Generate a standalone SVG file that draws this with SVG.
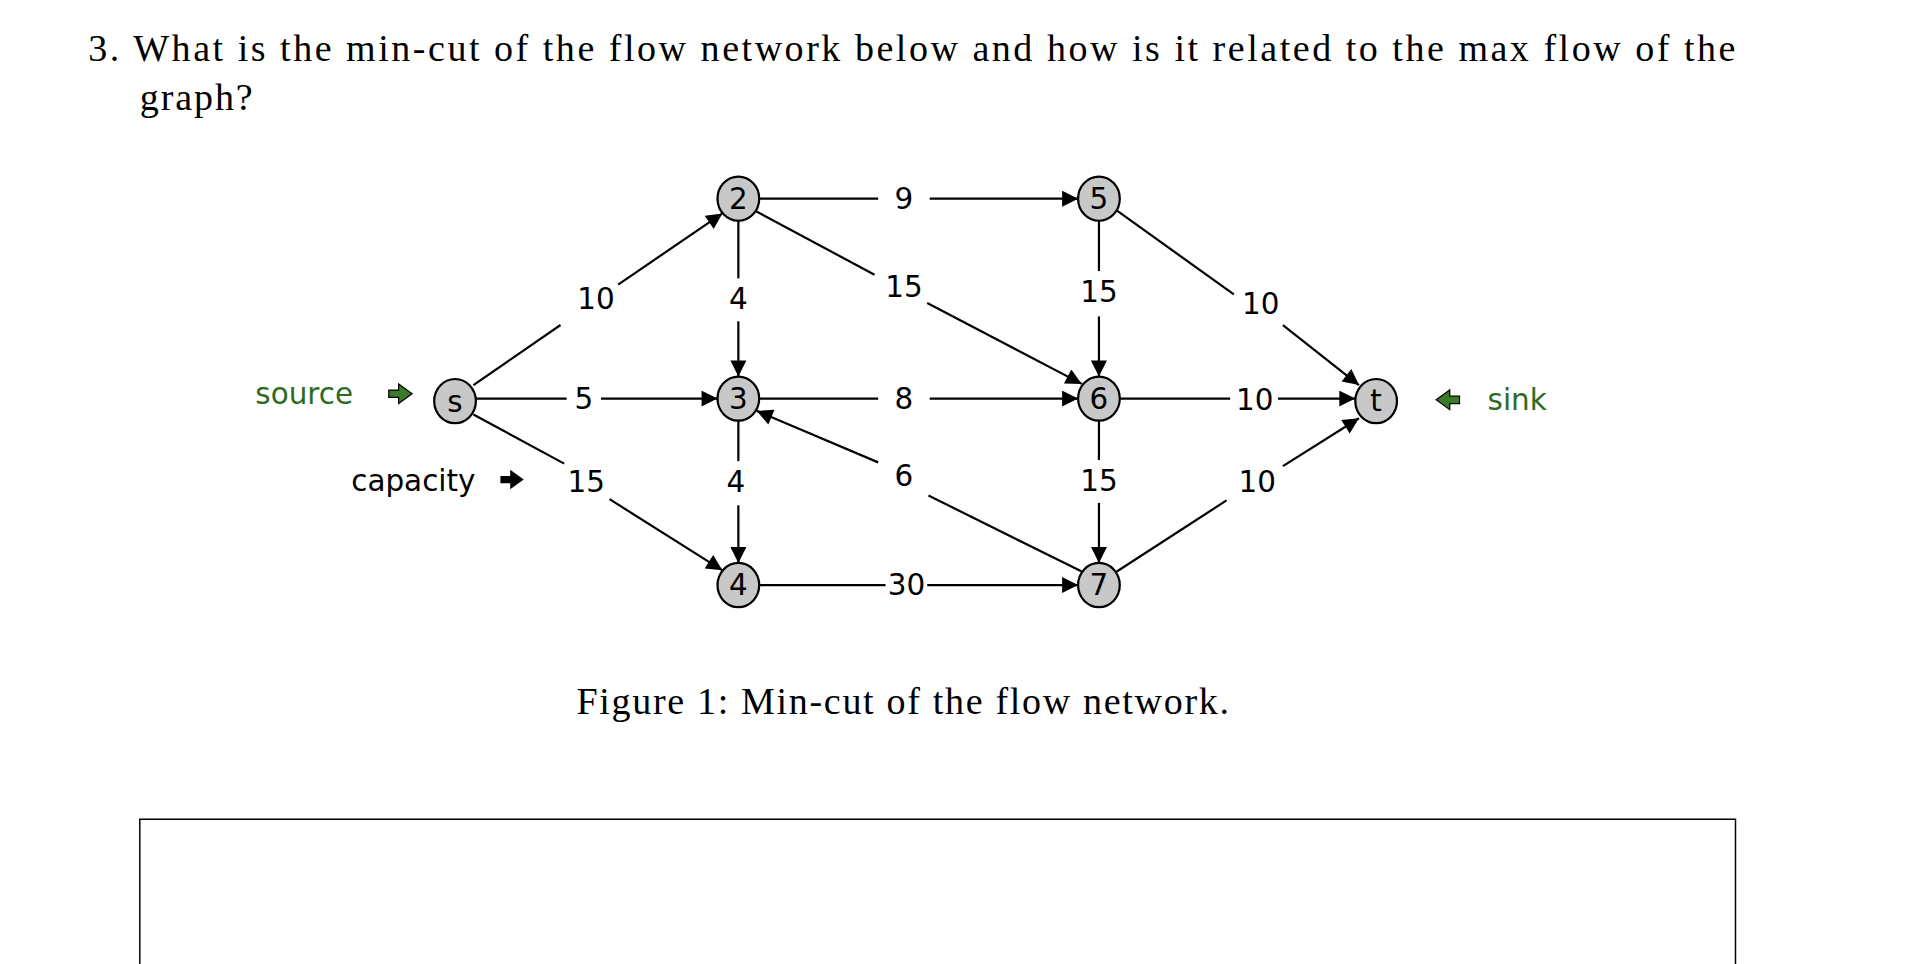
<svg xmlns="http://www.w3.org/2000/svg" width="1922" height="964" viewBox="0 0 1922 964">
<style>
.t{font-family:"Liberation Serif",serif;font-size:31px;fill:#000}
.l{font-family:"DejaVu Sans",sans-serif;font-size:24px;fill:#000;text-anchor:middle;dominant-baseline:central}
.n ellipse{fill:#c8c8c8;stroke:#000;stroke-width:1.8}
.e line{stroke:#000;stroke-width:1.8}
.a{marker-end:url(#ar)}
</style>
<defs><marker id="ar" viewBox="0 0 10 10" refX="10" refY="5" markerWidth="16" markerHeight="13" markerUnits="userSpaceOnUse" orient="auto"><path d="M0,0L10,5L0,10z" fill="#000"/></marker></defs>
<rect width="1922" height="964" fill="#fff"/>
<g transform="scale(1.2265,1.2265)">
<text class="t" x="72" y="50" textLength="1343" lengthAdjust="spacing">3. What is the min-cut of the flow network below and how is it related to the max flow of the</text>
<text class="t" x="114" y="90" textLength="92" lengthAdjust="spacing">graph?</text>
<g class="e" id="connectors">
<line x1="386" y1="314" x2="457" y2="265"/><line class="a" x1="504" y1="232" x2="589" y2="174"/>
<line x1="388" y1="325" x2="462" y2="325"/><line class="a" x1="490" y1="325" x2="585" y2="325"/>
<line x1="386" y1="338" x2="460" y2="378"/><line class="a" x1="497" y1="407" x2="589" y2="465"/>
<line x1="619" y1="162" x2="716" y2="162"/><line class="a" x1="758" y1="162" x2="879" y2="162"/>
<line x1="616" y1="172" x2="713" y2="224"/><line class="a" x1="756" y1="247" x2="882" y2="313"/>
<line x1="602" y1="180" x2="602" y2="227"/><line class="a" x1="602" y1="262" x2="602" y2="307"/>
<line x1="619" y1="325" x2="716" y2="325"/><line class="a" x1="758" y1="325" x2="879" y2="325"/>
<line class="a" x1="716" y1="377" x2="617" y2="335"/><line x1="757" y1="404" x2="882" y2="466"/>
<line x1="602" y1="343" x2="602" y2="376"/><line class="a" x1="602" y1="412" x2="602" y2="459"/>
<line x1="619" y1="477" x2="722" y2="477"/><line class="a" x1="756" y1="477" x2="879" y2="477"/>
<line x1="896" y1="180" x2="896" y2="221"/><line class="a" x1="896" y1="258" x2="896" y2="307"/>
<line x1="896" y1="343" x2="896" y2="375"/><line class="a" x1="896" y1="410" x2="896" y2="459"/>
<line x1="913" y1="325" x2="1003" y2="325"/><line class="a" x1="1042" y1="325" x2="1105" y2="325"/>
<line x1="911" y1="172" x2="1006" y2="240"/><line class="a" x1="1046" y1="265" x2="1108" y2="314"/>
<line x1="909" y1="467" x2="1000" y2="408"/><line class="a" x1="1046" y1="380" x2="1108" y2="341"/>
</g>
<g class="n" id="node-s"><ellipse cx="371" cy="327" rx="17" ry="18"/><text class="l" x="371" y="328" font-size="20">s</text></g>
<g class="n" id="node-2"><ellipse cx="602" cy="162" rx="17" ry="18"/><text class="l" x="602" y="162">2</text></g>
<g class="n" id="node-3"><ellipse cx="602" cy="325" rx="17" ry="18"/><text class="l" x="602" y="325">3</text></g>
<g class="n" id="node-4"><ellipse cx="602" cy="477" rx="17" ry="18"/><text class="l" x="602" y="477">4</text></g>
<g class="n" id="node-5"><ellipse cx="896" cy="162" rx="17" ry="18"/><text class="l" x="896" y="162">5</text></g>
<g class="n" id="node-6"><ellipse cx="896" cy="325" rx="17" ry="18"/><text class="l" x="896" y="325">6</text></g>
<g class="n" id="node-7"><ellipse cx="896" cy="477" rx="17" ry="18"/><text class="l" x="896" y="477">7</text></g>
<g class="n" id="node-t"><ellipse cx="1122" cy="327" rx="17" ry="18"/><text class="l" x="1122" y="327" font-size="20">t</text></g>
<g id="labels">
<text class="l" x="486" y="244">10</text><text class="l" x="602" y="244">4</text><text class="l" x="737" y="234">15</text>
<text class="l" x="896" y="238">15</text><text class="l" x="1028" y="248">10</text><text class="l" x="476" y="325">5</text>
<text class="l" x="737" y="325">8</text><text class="l" x="1023" y="326">10</text><text class="l" x="478" y="393">15</text>
<text class="l" x="600" y="393">4</text><text class="l" x="737" y="388">6</text><text class="l" x="896" y="392">15</text>
<text class="l" x="1025" y="393">10</text><text class="l" x="737" y="162">9</text><text class="l" x="739" y="477">30</text>
</g>
<g id="annot">
<text class="l" x="248" y="321" style="fill:#2e6b1f">source</text>
<path d="M317,318h8v-5l11,8l-11,8v-5h-8z" fill="#3a7a28" stroke="#000" stroke-width="1"/>
<text class="l" x="337" y="392">capacity</text>
<path d="M408,388h8v-5l11,8l-11,8v-5h-8z" fill="#000"/>
<path d="M1190,323h-8v-5l-11,8l11,8v-5h8z" fill="#3a7a28" stroke="#000" stroke-width="1"/>
<text class="l" x="1237" y="326" style="fill:#2e6b1f">sink</text>
</g>
<text class="t" x="470" y="582" textLength="532" lengthAdjust="spacing">Figure 1: Min-cut of the flow network.</text>
<path d="M114,800V668H1415V800" fill="none" stroke="#000" stroke-width="1.2"/>
</g>
</svg>
